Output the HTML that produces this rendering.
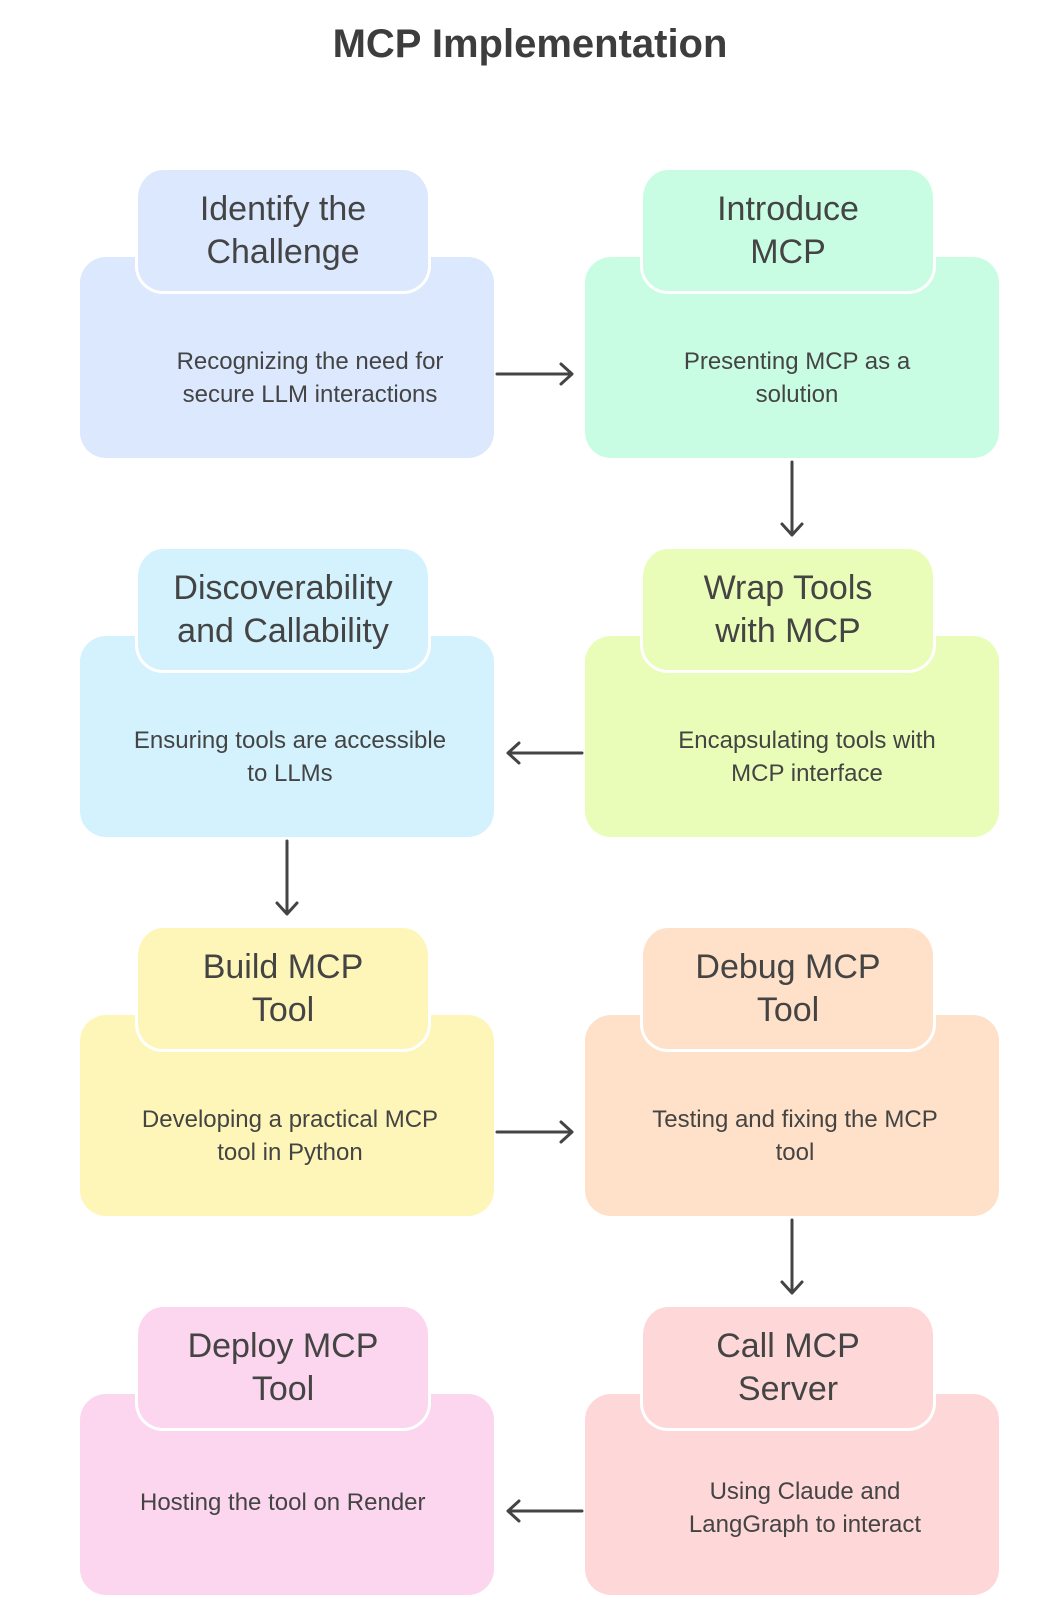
<!DOCTYPE html>
<html><head><meta charset="utf-8"><style>
body{margin:0;width:1060px;height:1620px;background:#fff;position:relative;font-family:"Liberation Sans",sans-serif;color:#444;overflow:hidden}
.t{position:absolute;left:0;width:1060px;top:22px;text-align:center;font-size:40px;font-weight:bold;color:#3d3d3d}
.b{position:absolute;width:414px;height:201px;border-radius:26px}
.h{position:absolute;width:296px;height:124px;border-radius:28px;border:3px solid #fff;border-top:none;display:flex;align-items:center;justify-content:center;text-align:center;font-size:34px;line-height:43px;box-sizing:border-box;padding:0 30px}
.x{position:absolute;width:330px;height:80px;display:flex;align-items:center;justify-content:center;text-align:center;font-size:24px;line-height:33px;overflow:hidden;white-space:nowrap}
svg{position:absolute;left:0;top:0}
</style></head><body>
<div class="t">MCP Implementation</div>

<div class="b" style="left:80px;top:257px;background:#dbe8fd"></div>
<div class="h" style="left:135px;top:170px;background:#dbe8fd">Identify the Challenge</div>
<div class="x" style="left:145px;top:338px">Recognizing the need for<br>secure LLM interactions</div>

<div class="b" style="left:585px;top:257px;background:#c9fde3"></div>
<div class="h" style="left:640px;top:170px;background:#c9fde3">Introduce<br>MCP</div>
<div class="x" style="left:632px;top:338px">Presenting MCP as a<br>solution</div>

<div class="b" style="left:80px;top:636px;background:#d3f2fd"></div>
<div class="h" style="left:135px;top:549px;background:#d3f2fd">Discoverability and Callability</div>
<div class="x" style="left:125px;top:717px">Ensuring tools are accessible<br>to LLMs</div>

<div class="b" style="left:585px;top:636px;background:#e9fdb8"></div>
<div class="h" style="left:640px;top:549px;background:#e9fdb8">Wrap Tools with MCP</div>
<div class="x" style="left:642px;top:717px">Encapsulating tools with<br>MCP interface</div>

<div class="b" style="left:80px;top:1015px;background:#fef6b9"></div>
<div class="h" style="left:135px;top:928px;background:#fef6b9">Build MCP Tool</div>
<div class="x" style="left:125px;top:1096px">Developing a practical MCP<br>tool in Python</div>

<div class="b" style="left:585px;top:1015px;background:#fee1c8"></div>
<div class="h" style="left:640px;top:928px;background:#fee1c8">Debug MCP Tool</div>
<div class="x" style="left:630px;top:1096px">Testing and fixing the MCP<br>tool</div>

<div class="b" style="left:80px;top:1394px;background:#fcd6ee"></div>
<div class="h" style="left:135px;top:1307px;background:#fcd6ee">Deploy MCP Tool</div>
<div class="x" style="left:140px;top:1462px;width:340px;justify-content:flex-start">Hosting the tool on Render</div>

<div class="b" style="left:585px;top:1394px;background:#fed8d8"></div>
<div class="h" style="left:640px;top:1307px;background:#fed8d8">Call MCP Server</div>
<div class="x" style="left:640px;top:1468px">Using Claude and<br>LangGraph to interact</div>

<svg width="1060" height="1620" fill="none" stroke="#444" stroke-width="3" stroke-linecap="round" stroke-linejoin="round">
<path d="M497 374H572M561 364L572 374L561 384"/>
<path d="M792 462V535M782 524L792 535L802 524"/>
<path d="M582 753H508M519 743L508 753L519 763"/>
<path d="M287 841V914M277 903L287 914L297 903"/>
<path d="M497 1132H572M561 1122L572 1132L561 1142"/>
<path d="M792 1220V1293M782 1282L792 1293L802 1282"/>
<path d="M582 1511H508M519 1501L508 1511L519 1521"/>
</svg>
</body></html>
